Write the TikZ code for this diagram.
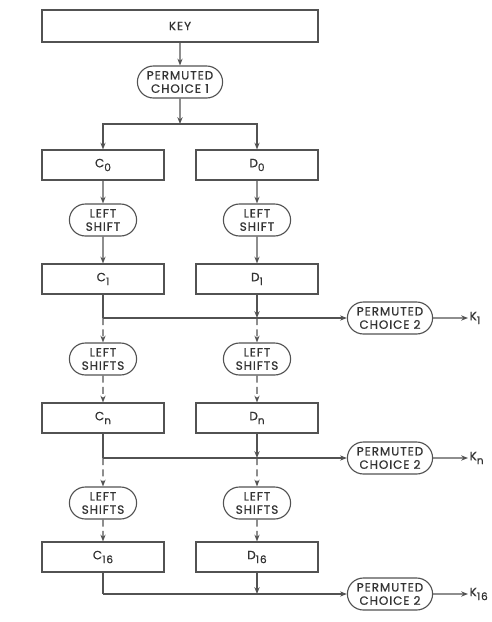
\documentclass[tikz,border=0pt]{standalone}
\usepackage{fontspec}
\setmainfont{Poppins}[LetterSpace=8, FakeBold=0.8]
\usetikzlibrary{positioning, calc, arrows.meta, shapes.misc}
\definecolor{inkgray}{gray}{0.32}
\definecolor{textgray}{gray}{0.2}
\newcommand{\lowidx}[1]{\raisebox{-0.6ex}{\fontsize{7.5}{8}\selectfont #1}}
\tikzset{
  % Registers and operations
  regbox/.style  = { draw=inkgray, line width=0.8pt, minimum width=3.05cm, minimum height=0.75cm,
                     text=textgray, font=\fontsize{8.5}{9.5}\selectfont },
  keybox/.style  = { regbox, minimum width=6.9cm, minimum height=0.8cm },
  opnode/.style  = { draw=inkgray, line width=0.8pt, rounded rectangle, minimum height=0.8cm,
                     align=center, inner sep=1pt, text=textgray, font=\fontsize{8.5}{9.5}\selectfont },
  pcnode/.style  = { opnode, minimum width=2.2cm },
  lsnode/.style  = { opnode, minimum width=1.75cm },
  klabel/.style  = { text=textgray, font=\fontsize{8.5}{9.5}\selectfont, inner sep=1pt, anchor=west },
  % Connectors
  link/.style    = { draw=inkgray, line width=0.8pt },
  flow/.style    = { link, -{Stealth[length=1.7mm, width=1.3mm]} },
  dflow/.style   = { flow, dash pattern=on 5pt off 3pt }
}

\begin{document}
\begin{tikzpicture}
  \useasboundingbox (0,0) rectangle (12.3,-15.55);

  % --- Key and first permutation -------------------------------------
  \node[keybox] (key) at (4.5,-0.65) {KEY};
  \node[pcnode] (pc1) at (4.5,-2.05) {PERMUTED\\CHOICE 1};
  \coordinate (split) at (4.5,-3.1);

  % --- Register columns (C at 2.575, D at 6.425) ---------------------
  \node[regbox] (c0)  at (2.575,-4.125)  {C\lowidx{0}};
  \node[regbox] (d0)  at (6.425,-4.125)  {D\lowidx{0}};
  \node[lsnode] (cls1) at (2.575,-5.5)   {LEFT\\SHIFT};
  \node[lsnode] (dls1) at (6.425,-5.5)   {LEFT\\SHIFT};
  \node[regbox] (c1)  at (2.575,-6.975)  {C\lowidx{1}};
  \node[regbox] (d1)  at (6.425,-6.975)  {D\lowidx{1}};
  \node[lsnode] (cls2) at (2.575,-8.975) {LEFT\\SHIFTS};
  \node[lsnode] (dls2) at (6.425,-8.975) {LEFT\\SHIFTS};
  \node[regbox] (cn)  at (2.575,-10.45)  {C\lowidx{n}};
  \node[regbox] (dn)  at (6.425,-10.45)  {D\lowidx{n}};
  \node[lsnode] (cls3) at (2.575,-12.575) {LEFT\\SHIFTS};
  \node[lsnode] (dls3) at (6.425,-12.575) {LEFT\\SHIFTS};
  \node[regbox] (c16) at (2.575,-13.925) {C\lowidx{16}};
  \node[regbox] (d16) at (6.425,-13.925) {D\lowidx{16}};

  % --- Second permutation, one per round shown -----------------------
  \node[pcnode] (pca) at (9.75,-7.95)  {PERMUTED\\CHOICE 2};
  \node[pcnode] (pcb) at (9.75,-11.45) {PERMUTED\\CHOICE 2};
  \node[pcnode] (pcc) at (9.75,-14.85) {PERMUTED\\CHOICE 2};
  \node[klabel] (ka) at (11.7,-7.95)  {K\lowidx{1}};
  \node[klabel] (kb) at (11.7,-11.45) {K\lowidx{n}};
  \node[klabel] (kc) at (11.7,-14.85) {K\lowidx{16}};

  % junctions where C and D are tapped
  \foreach \j/\y in {a/-7.95, b/-11.45, c/-14.85} {
    \coordinate (jc\j) at (2.575,\y);
    \coordinate (jd\j) at (6.425,\y);
  }

  % --- Connectors -----------------------------------------------------
  \draw[flow] (key) -- (pc1);
  \draw[flow] (pc1) -- (split);
  \draw[flow] (split) -| (c0);
  \draw[flow] (split) -| (d0);

  \foreach \s in {c,d} {
    \draw[flow]  (\s0) -- (\s ls1);
    \draw[flow]  (\s ls1) -- (\s1);
    \draw[dflow] (j\s a) -- (\s ls2);
    \draw[dflow] (\s ls2) -- (\s n);
    \draw[dflow] (j\s b) -- (\s ls3);
    \draw[dflow] (\s ls3) -- (\s16);
  }

  \draw[link] (c1) -- (jca);   \draw[flow] (d1) -- (jda);
  \draw[link] (cn) -- (jcb);   \draw[flow] (dn) -- (jdb);
  \draw[link] (c16) -- (jcc);  \draw[flow] (d16) -- (jdc);

  \foreach \j in {a,b,c} {
    \draw[flow] (jc\j) -- (pc\j);
    \draw[flow] (pc\j) -- (k\j);
  }

\end{tikzpicture}
\end{document}
